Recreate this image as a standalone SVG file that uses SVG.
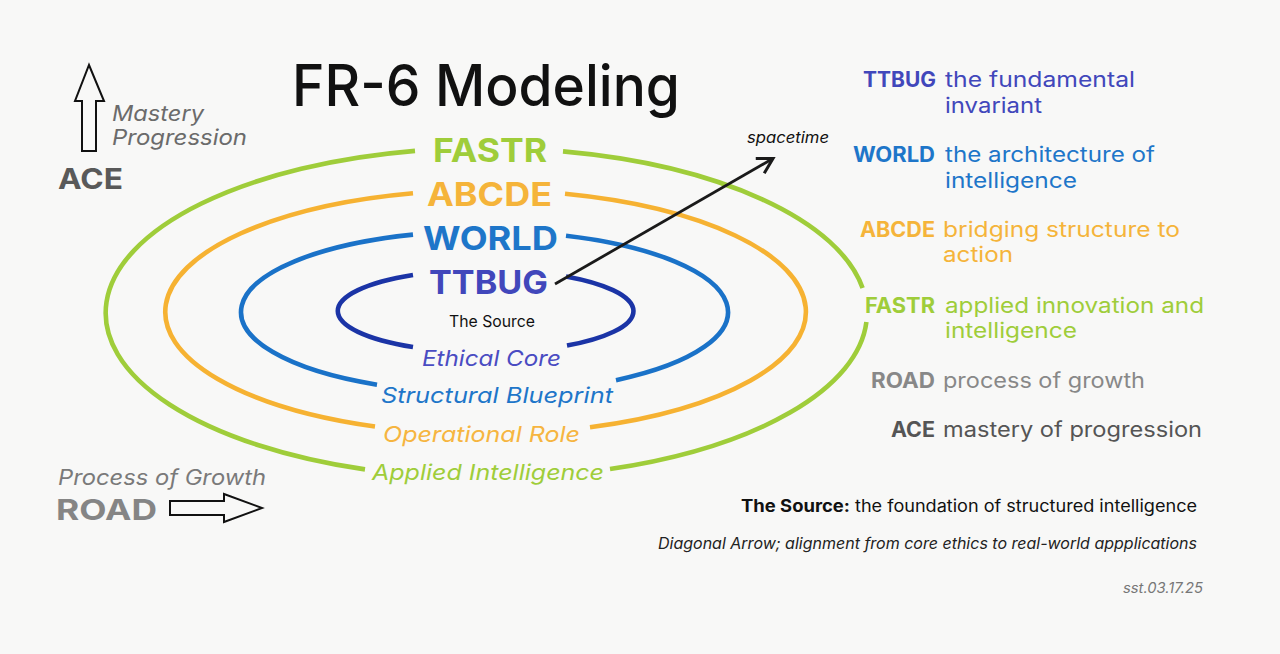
<svg xmlns="http://www.w3.org/2000/svg" width="1280" height="654" viewBox="0 0 1280 654">
<defs>
<style>
.bg{fill:#f8f8f7}
.ring{fill:none;stroke-width:4.6;stroke-linecap:butt}
.t{font-family:Inter,"Noto Sans","Liberation Sans",sans-serif}
.b{font-weight:700}
.i{font-style:italic}
.lab{font-size:33px;font-weight:700}
.sub{font-size:22px;font-style:italic}
.lg{font-size:21px}
.green{fill:#9fcd3a}.orange{fill:#f5b43a}.blue{fill:#1e76c9}.indigo{fill:#4147bb}
.outline{fill:none;stroke:#111;stroke-width:2;stroke-linejoin:miter}
</style>
<marker id="chev" markerUnits="userSpaceOnUse" markerWidth="24" markerHeight="24" viewBox="-18 -12 24 24" refX="0" refY="0" orient="auto">
<path d="M -15,-8.5 L 0,0 L -15,8.5" fill="none" stroke="#1a1a1a" stroke-width="3"/>
</marker>
</defs>
<rect class="bg" x="0" y="0" width="1280" height="654"/>

<g id="title"><text class="t" x="292" y="106" font-size="57" font-weight="500" fill="#111" textLength="388" lengthAdjust="spacingAndGlyphs">FR-6 Modeling</text></g>

<g id="ring-fastr">
<path class="ring" stroke="#9fcd3a" d="M 415,150.9 A 380.5,165 0 0 0 365,469.4"/>
<path class="ring" stroke="#9fcd3a" d="M 563,151.4 A 380.5,165 0 0 1 862.6,288"/>
<path class="ring" stroke="#9fcd3a" d="M 866.4,322 A 380.5,165 0 0 1 610,469.1"/>
<text class="t lab green" x="433" y="162" textLength="114" lengthAdjust="spacingAndGlyphs">FASTR</text>
<text class="t sub green" x="372" y="480" textLength="232" lengthAdjust="spacingAndGlyphs">Applied Intelligence</text>
</g>

<g id="ring-abcde">
<path class="ring" stroke="#f6b232" d="M 413,193.2 A 320.5,122 0 0 0 375,426.5"/>
<path class="ring" stroke="#f6b232" d="M 565,193.8 A 320.5,122 0 0 1 590,427.3"/>
<text class="t lab orange" x="427" y="206" textLength="125" lengthAdjust="spacingAndGlyphs">ABCDE</text>
<text class="t sub" fill="#f6b540" x="383" y="442" textLength="197" lengthAdjust="spacingAndGlyphs">Operational Role</text>
</g>

<g id="ring-world">
<path class="ring" stroke="#1a72c8" d="M 413,234.6 A 243.5,81 0 0 0 377,384.7"/>
<path class="ring" stroke="#1a72c8" d="M 566,235.7 A 243.5,81 0 0 1 616,380.2"/>
<text class="t lab blue" x="423" y="250" textLength="135" lengthAdjust="spacingAndGlyphs">WORLD</text>
<text class="t sub blue" x="381" y="403" textLength="232" lengthAdjust="spacingAndGlyphs">Structural Blueprint</text>
</g>

<g id="ring-ttbug">
<path class="ring" stroke="#1b34a6" d="M 413,275 A 147.5,41.3 0 0 0 413,347"/>
<path class="ring" stroke="#1b34a6" d="M 566,276.4 A 147.5,41.3 0 0 1 567,345.6"/>
<text class="t lab indigo" x="429" y="294" textLength="119" lengthAdjust="spacingAndGlyphs">TTBUG</text>
<text class="t sub" fill="#4a4cc2" x="422" y="366" textLength="139" lengthAdjust="spacingAndGlyphs">Ethical Core</text>
</g>

<g id="source"><text class="t" x="449" y="327" font-size="16" fill="#111" textLength="86" lengthAdjust="spacingAndGlyphs">The Source</text></g>

<g id="connectors">
<line x1="555" y1="284" x2="773" y2="158.5" stroke="#1a1a1a" stroke-width="2.8" marker-end="url(#chev)"/>
<text class="t i" x="747" y="143" font-size="15" fill="#111" textLength="82" lengthAdjust="spacingAndGlyphs">spacetime</text>
</g>

<g id="ace-indicator">
<polygon class="outline" points="89,65 104,101 96,101 96,151 82,151 82,101 75,101"/>
<text class="t i" x="112" y="121" font-size="21" fill="#6b6b6b" textLength="92" lengthAdjust="spacingAndGlyphs">Mastery</text>
<text class="t i" x="112" y="145" font-size="21" fill="#6b6b6b" textLength="135" lengthAdjust="spacingAndGlyphs">Progression</text>
<text class="t b" x="58" y="189" font-size="28" fill="#595959" textLength="65" lengthAdjust="spacingAndGlyphs">ACE</text>
</g>

<g id="road-indicator">
<text class="t i" x="58" y="485" font-size="21" fill="#7a7a7a" textLength="208" lengthAdjust="spacingAndGlyphs">Process of Growth</text>
<text class="t b" x="56" y="520" font-size="29" fill="#858585" textLength="101" lengthAdjust="spacingAndGlyphs">ROAD</text>
<polygon class="outline" points="170,501 224,501 224,494 262,508 224,522 224,515 170,515"/>
</g>

<g id="legend-ttbug" class="indigo">
<text class="t b lg" x="936" y="87" text-anchor="end" textLength="73" lengthAdjust="spacingAndGlyphs">TTBUG</text>
<text class="t lg" x="945" y="87" textLength="190" lengthAdjust="spacingAndGlyphs">the fundamental</text>
<text class="t lg" x="945" y="113" textLength="97" lengthAdjust="spacingAndGlyphs">invariant</text>
</g>
<g id="legend-world" class="blue">
<text class="t b lg" x="935" y="162" text-anchor="end" textLength="82" lengthAdjust="spacingAndGlyphs">WORLD</text>
<text class="t lg" x="945" y="162" textLength="210" lengthAdjust="spacingAndGlyphs">the architecture of</text>
<text class="t lg" x="945" y="188" textLength="132" lengthAdjust="spacingAndGlyphs">intelligence</text>
</g>
<g id="legend-abcde" class="orange">
<text class="t b lg" x="935" y="237" text-anchor="end" textLength="75" lengthAdjust="spacingAndGlyphs">ABCDE</text>
<text class="t lg" x="943" y="237" textLength="237" lengthAdjust="spacingAndGlyphs">bridging structure to</text>
<text class="t lg" x="943" y="262" textLength="70" lengthAdjust="spacingAndGlyphs">action</text>
</g>
<g id="legend-fastr" class="green">
<text class="t b lg" x="935" y="313" text-anchor="end" textLength="70" lengthAdjust="spacingAndGlyphs">FASTR</text>
<text class="t lg" x="945" y="313" textLength="259" lengthAdjust="spacingAndGlyphs">applied innovation and</text>
<text class="t lg" x="945" y="338" textLength="132" lengthAdjust="spacingAndGlyphs">intelligence</text>
</g>
<g id="legend-road" fill="#888">
<text class="t b lg" x="935" y="388" text-anchor="end" textLength="64" lengthAdjust="spacingAndGlyphs">ROAD</text>
<text class="t lg" x="943" y="388" textLength="202" lengthAdjust="spacingAndGlyphs">process of growth</text>
</g>
<g id="legend-ace" fill="#555">
<text class="t b lg" x="935" y="437" text-anchor="end" textLength="44" lengthAdjust="spacingAndGlyphs">ACE</text>
<text class="t lg" x="943" y="437" textLength="259" lengthAdjust="spacingAndGlyphs">mastery of progression</text>
</g>

<g id="notes">
<text class="t b" x="741" y="512" font-size="17" fill="#111" textLength="109" lengthAdjust="spacingAndGlyphs">The Source:</text>
<text class="t" x="855" y="512" font-size="17" fill="#111" textLength="342" lengthAdjust="spacingAndGlyphs">the foundation of structured intelligence</text>
<text class="t i" x="658" y="549" font-size="15.5" fill="#222" textLength="539" lengthAdjust="spacingAndGlyphs">Diagonal Arrow; alignment from core ethics to real-world appplications</text>
<text class="t i" x="1123" y="593" font-size="14" fill="#777" textLength="80" lengthAdjust="spacingAndGlyphs">sst.03.17.25</text>
</g>
</svg>
